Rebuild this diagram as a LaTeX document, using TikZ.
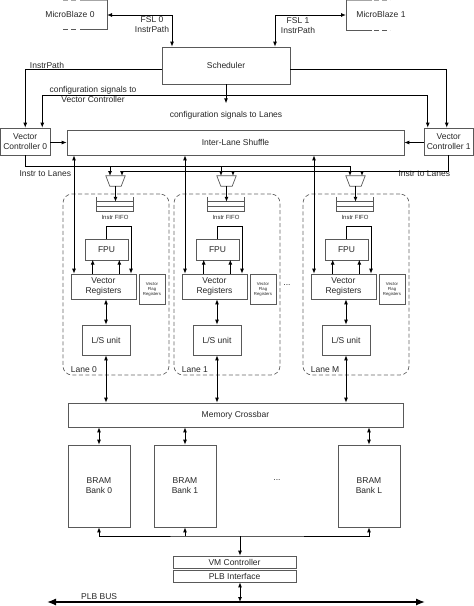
\documentclass[tikz,border=0pt]{standalone}
\usepackage{fontspec}
\setmainfont{Liberation Sans}
\usetikzlibrary{arrows.meta,positioning}

\begin{document}
\begin{tikzpicture}[x=1pt,y=-1pt,>={Latex[length=5pt,width=4pt]},
        font=\fontsize{8.5}{10}\selectfont,text=black!85,
        blk/.style={draw=black!65,line width=0.7pt,inner sep=0pt,align=center},
        lanebox/.style={draw=black!60,dash pattern=on 4pt off 2.5pt,rounded corners=9pt,line width=0.7pt},
        wire/.style={draw=black,line width=0.9pt},
        small/.style={font=\fontsize{6}{7}\selectfont},
        tiny/.style={font=\fontsize{4.3}{5}\selectfont}]
        \useasboundingbox (0,0) rectangle (474,606);

        % the two processors, cut off at the top
        \node (mb0) at (70,14.5) {MicroBlaze 0};
        \node (mb1) at (381,14.5) {MicroBlaze 1};
        \coordinate (mb0port) at (107,15);
        \coordinate (mb1port) at (346,15);
        \draw[black!35,line width=1.5pt] (80,0.7) -- (107,0.7) (346,0.7) -- (372,0.7);
        \draw[black!35,line width=1.5pt,dash pattern=on 5pt off 3pt] (63,0.7) -- (78,0.7) (374,0.7) -- (390,0.7);
        \draw[black!65,line width=0.7pt] (80,29) -- (107,29) -- (107,0) (346,0) -- (346,30) -- (372,30);
        \draw[black!65,line width=0.7pt,dash pattern=on 5pt off 3pt] (63,29) -- (78,29) (374,30) -- (390,30);

        \node (sched) [blk,minimum width=128,minimum height=37] at (226,65.5) {Scheduler};
        \draw[wire,<->] (mb0port) -| ([xshift=-54pt]sched.north);
        \draw[wire,<->] (mb1port) -| ([xshift=49pt]sched.north);
        \node (fsl0lbl) [align=center] at (152,25) {FSL 0\\InstrPath};
        \node (fsl1lbl) [align=center] at (298,25.5) {FSL 1\\InstrPath};

        \node (vc0) [blk,minimum width=49.5,minimum height=27] at (25.25,141.5) {Vector\\Controller 0};
        \node (vc1) [blk,minimum width=49.5,minimum height=27] at (448.75,141.5) {Vector\\Controller 1};
        \node (shuffle) [blk,minimum width=337,minimum height=25] at (235.5,142.5) {Inter-Lane Shuffle};

        \draw[wire,->] ([yshift=-4pt]sched.west) -| (vc0.north);
        \draw[wire,->] ([yshift=-4pt]sched.east) -| ([xshift=-2pt]vc1.north);
        \node (instrlbl) at (47,65) {InstrPath};

        \coordinate (cfg) at (226,95);
        \draw[wire,->] (cfg) -| ([xshift=17pt]vc0.north);
        \draw[wire,->] (cfg) -| ([xshift=-21pt]vc1.north);
        \draw[wire,->] (sched.south) -- ++(0,19);
        \node (cfgvclbl) [align=center] at (93,94) {configuration signals to\\Vector Controller};
        \node (cfglanelbl) at (226,115) {configuration signals to Lanes};

        \draw[wire,->] (vc0.east |- shuffle) -- (shuffle.west);
        \draw[wire,->] (vc1.west |- shuffle) -- (shuffle.east);

        \coordinate (busA) at (0,166);
        \coordinate (busB) at (0,171);
        \node (itl0) [anchor=west] at (16,173.5) {Instr to Lanes};
        \node (itl1) [anchor=west] at (395,174) {Instr to Lanes};

        \node (xbar) [blk,minimum width=335,minimum height=24] at (235.5,415) {Memory Crossbar};

        % lanes
        \foreach \i/\dx in {0/0,1/111,M/240} {
            \node (lane\i) [lanebox,minimum width=106,minimum height=181] at (116+\dx,284.5) {};
            \node (lanelbl\i) [anchor=south west,inner sep=1pt] at ([xshift=7pt,yshift=2pt]lane\i.south west) {Lane \i};
            \node (mux\i) [minimum width=19,minimum height=10,inner sep=0pt] at (115.5+\dx,181) {};
            \draw[black!65,line width=0.7pt] (mux\i.north west) -- (mux\i.north east)
                -- ([xshift=-4pt]mux\i.south east) -- ([xshift=4pt]mux\i.south west) -- cycle;
            \coordinate (inA\i) at (110+\dx,176);
            \coordinate (inB\i) at (122+\dx,176);
            \draw[wire,->] (inA\i |- busA) -- (inA\i);
            \draw[wire,->] (inB\i |- busB) -- (inB\i);

            \node (fifo\i) [minimum width=37,minimum height=9,inner sep=0pt] at (115+\dx,206.5) {};
            \draw[black!65,line width=0.7pt] ([yshift=5pt]fifo\i.north west) -- (fifo\i.south west) -- (fifo\i.south east) -- ([yshift=5pt]fifo\i.north east)
                (fifo\i.north west) -- (fifo\i.north east) (fifo\i.west) -- (fifo\i.east);
            \node (fifolbl\i) [small,below=1pt of fifo\i] {Instr FIFO};
            \draw[wire,->] (mux\i.south) -- (mux\i.south |- fifo\i.north);

            \node (fpu\i) [blk,minimum width=43,minimum height=21] at (106.5+\dx,249.5) {FPU};
            \node (vreg\i) [blk,minimum width=65,minimum height=25] at (103.5+\dx,286.5) {Vector\\Registers};
            \node (vflag\i) [blk,tiny,minimum width=26,minimum height=30] at (152+\dx,289) {Vector\\Flag\\Registers};
            \node (lsu\i) [blk,minimum width=48,minimum height=30] at (106+\dx,340) {L/S unit};

            \coordinate (sh\i) at (74+\dx,0);
            \draw[wire,<->] (sh\i |- shuffle.south) -- (sh\i |- vreg\i.north);
            \draw[wire,->] (fpu\i.north) -- ++(0,-12) -| ([xshift=27.5pt]vreg\i.north);
            \draw[wire,->] ([xshift=-10.8pt]vreg\i.north) -- ++(0,-14);
            \draw[wire,->] ([xshift=15.8pt]vreg\i.north) -- ++(0,-14);
            \draw[wire,<->] (lsu\i.north |- vreg\i.south) -- (lsu\i.north);
            \draw[wire,<->] (lsu\i.south) -- (lsu\i.south |- xbar.north);
        }
        \draw[wire] (vc0.south) |- (inAM |- busA);
        \draw[wire] (vc1.south) |- (inB0 |- busB);
        \node (lanedots) at (287,285) {...};

        % memory
        \node (bank0) [blk,minimum width=62,minimum height=82] at (99,486) {BRAM\\Bank 0};
        \node (bank1) [blk,minimum width=62,minimum height=82] at (185,486) {BRAM\\Bank 1};
        \node (bankL) [blk,minimum width=62,minimum height=82] at (369,486) {BRAM\\Bank L};
        \node (bankdots) at (277,480) {...};
        \foreach \b in {bank0,bank1,bankL}
            \draw[wire,<->] (\b.north |- xbar.south) -- (\b.north);

        \node (vmctrl) [blk,minimum width=123,minimum height=12] at (234.5,562) {VM Controller};
        \node (plbif) [blk,minimum width=123,minimum height=12] at (234.5,576) {PLB Interface};
        \coordinate (tap) at (240,536);
        \draw[wire,<->] (bank0.south) |- (tap) -| (bankL.south);
        \draw[wire,->] (bank1.south |- tap) -- (bank1.south);
        \draw[wire,->] (tap) -- (tap |- vmctrl.north);

        \coordinate (busL) at (47,602);
        \coordinate (busR) at (425,602);
        \draw[wire,line width=1.3pt,{Latex[length=9pt,width=7pt]}-{Latex[length=9pt,width=7pt]}] (busL) -- (busR);
        \draw[wire,<->] (tap |- plbif.south) -- (tap |- busL);
        \node (buslbl) [anchor=south west,inner sep=1pt] at (80,601) {PLB BUS};
    \end{tikzpicture}
\end{document}
